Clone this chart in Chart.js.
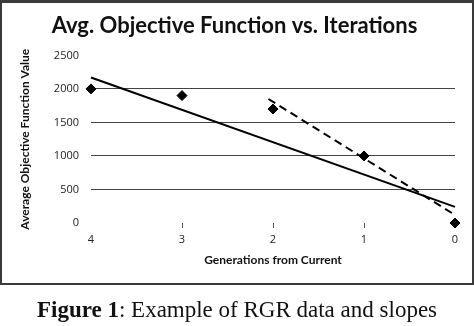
<!DOCTYPE html>
<html>
<head>
<meta charset="utf-8">
<script src="https://cdn.jsdelivr.net/npm/chart.js@4"></script>
<style>
    html, body { margin: 0; padding: 0; background: #fff; }
    #frame {
        position: absolute; left: 0; top: 0;
        width: 474px; height: 285px;
        box-sizing: border-box;
        border: 2px solid #3a3a3a;
        border-top-width: 3px;
        pointer-events: none;
    }
    #chart { position: absolute; left: 0; top: 0; }
    #caption {
        position: absolute; left: 0; top: 297px; width: 474px;
        text-align: center;
        font-family: "Liberation Serif", "Times New Roman", serif;
        font-size: 23px; color: #111;
    }
</style>
</head>
<body>
<canvas id="chart" width="474" height="285"></canvas>
<div id="frame"></div>
<div id="caption"><b>Figure 1</b>: Example of RGR data and slopes</div>
<script>
    const generations = [4, 3, 2, 1, 0];
    const objectiveValues = [2000, 1900, 1700, 1000, 0];

    // slope over all generations
    const fitAllX = [4, 0];
    const fitAllY = [2170, 240];

    // slope over the last two generations
    const fitRecentX = [2.05, 0];
    const fitRecentY = [1850, 120];

    const yTicks = [0, 500, 1000, 1500, 2000, 2500];

    const toPoints = (xs, ys) => xs.map((x, i) => ({ x: x, y: ys[i] }));

    const labelFont = { family: 'Open Sans', size: 11 };
    const axisTitleFont = { family: 'Lato', size: 12, weight: 'bold' };

    new Chart(document.getElementById('chart').getContext('2d'), {
        type: 'scatter',
        data: {
            datasets: [
                {
                    label: 'Average',
                    data: toPoints(generations, objectiveValues),
                    pointStyle: 'rectRot',
                    pointRadius: 5,
                    backgroundColor: '#000',
                    borderColor: '#000',
                    showLine: false,
                    clip: false,
                },
                {
                    label: 'Slope (all)',
                    data: toPoints(fitAllX, fitAllY),
                    showLine: true,
                    pointRadius: 0,
                    borderColor: '#000',
                    borderWidth: 2,
                    clip: false,
                },
                {
                    label: 'Slope (recent)',
                    data: toPoints(fitRecentX, fitRecentY),
                    showLine: true,
                    pointRadius: 0,
                    borderColor: '#000',
                    borderWidth: 2,
                    borderDash: [8, 5],
                    clip: false,
                },
            ],
        },
        options: {
            responsive: false,
            animation: false,
            layout: { padding: { left: 14, right: 19, top: 13, bottom: 18 } },
            plugins: {
                legend: { display: false },
                tooltip: { enabled: false },
                title: {
                    display: true,
                    text: 'Avg. Objective Function vs. Iterations',
                    color: '#111',
                    font: { family: 'Lato', size: 22, weight: 'bold' },
                    padding: { top: 0, bottom: 16 },
                },
            },
            scales: {
                x: {
                    type: 'linear',
                    reverse: true,
                    min: 0,
                    max: 4,
                    border: { display: false },
                    grid: {
                        drawOnChartArea: false,
                        tickLength: 5,
                        color: ctx => (ctx.tick && ctx.tick.value > 0 && ctx.tick.value < 4) ? '#555' : 'rgba(0,0,0,0)',
                    },
                    ticks: { stepSize: 1, padding: 5, color: '#222', font: labelFont },
                    title: {
                        display: true,
                        text: 'Generations from Current',
                        color: '#111',
                        font: axisTitleFont,
                        padding: 0,
                    },
                    afterFit: scale => { scale.height = 44; },
                },
                y: {
                    min: 0,
                    max: 2500,
                    border: { display: false },
                    grid: {
                        drawTicks: false,
                        color: ctx => (ctx.tick && ctx.tick.value > 0 && ctx.tick.value < 2500) ? '#444' : 'rgba(0,0,0,0)',
                    },
                    afterBuildTicks: scale => { scale.ticks = yTicks.map(v => ({ value: v })); },
                    ticks: {
                        padding: 12,
                        color: '#222',
                        font: labelFont,
                        callback: value => String(value),
                    },
                    title: {
                        display: true,
                        text: 'Average Objective Function Value',
                        color: '#111',
                        font: axisTitleFont,
                        padding: { top: 4 },
                    },
                    afterFit: scale => { scale.width = 77; },
                },
            },
        },
    });
</script>
</body>
</html>
